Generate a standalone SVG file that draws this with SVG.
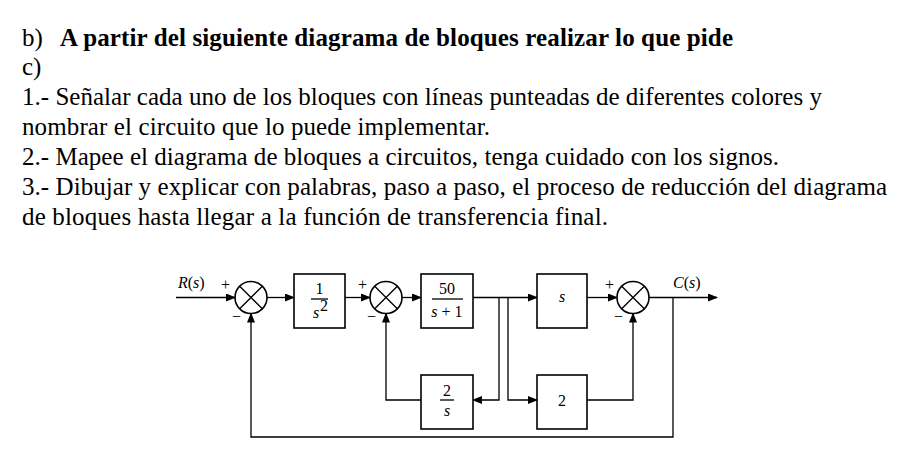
<svg xmlns="http://www.w3.org/2000/svg" width="919" height="461" viewBox="0 0 919 461">
<style>
.t{font-family:"Liberation Serif",serif;font-size:25px;fill:#000}
.m{font-family:"Liberation Serif",serif;font-size:16px;fill:#000}
.i{font-style:italic}
.b{fill:#fff;stroke:#000;stroke-width:1.6}
.l{fill:none;stroke:#000;stroke-width:1.3}
</style>
<defs><marker id="a" markerWidth="10" markerHeight="8" refX="9" refY="4" orient="auto" markerUnits="userSpaceOnUse"><path d="M0,0L10,4L0,8z"/></marker></defs>
<rect width="919" height="461" fill="#fff"/>
<text class="t" x="22" y="46">b)</text>
<text class="t" x="60" y="46" font-weight="bold" textLength="673">A partir del siguiente diagrama de bloques realizar lo que pide</text>
<text class="t" x="22" y="75">c)</text>
<text class="t" x="22" y="105" textLength="800">1.- Señalar cada uno de los bloques con líneas punteadas de diferentes colores y</text>
<text class="t" x="22" y="135" textLength="468">nombrar el circuito que lo puede implementar.</text>
<text class="t" x="22" y="165" textLength="757">2.- Mapee el diagrama de bloques a circuitos, tenga cuidado con los signos.</text>
<text class="t" x="22" y="195" textLength="865">3.- Dibujar y explicar con palabras, paso a paso, el proceso de reducción del diagrama</text>
<text class="t" x="22" y="225" textLength="586">de bloques hasta llegar a la función de transferencia final.</text>
<g id="connectors" class="l">
<path d="M176,297.5H235" marker-end="url(#a)"/>
<path d="M267,297.5H294" marker-end="url(#a)"/>
<path d="M345,297.5H370" marker-end="url(#a)"/>
<path d="M402,297.5H421" marker-end="url(#a)"/>
<path d="M473,297.5H537" marker-end="url(#a)"/>
<path d="M587,297.5H617" marker-end="url(#a)"/>
<path d="M649,297.5H717" marker-end="url(#a)"/>
<path d="M499,297.5V400H473" marker-end="url(#a)"/>
<path d="M421,400H386V313.5" marker-end="url(#a)"/>
<path d="M508,297.5V400H537" marker-end="url(#a)"/>
<path d="M587,400H633V313.5" marker-end="url(#a)"/>
<path d="M673,297.5V437H251V313.5" marker-end="url(#a)"/>
</g>
<g id="sum1"><circle class="b" cx="251" cy="297.5" r="16"/><path class="l" d="M239.7,286.2L262.3,308.8M262.3,286.2L239.7,308.8"/><text class="m" x="221" y="290">+</text><text class="m" x="232" y="322">−</text></g>
<g id="sum2"><circle class="b" cx="386" cy="297.5" r="16"/><path class="l" d="M374.7,286.2L397.3,308.8M397.3,286.2L374.7,308.8"/><text class="m" x="358" y="290">+</text><text class="m" x="367" y="322">−</text></g>
<g id="sum3"><circle class="b" cx="633" cy="297.5" r="16"/><path class="l" d="M621.7,286.2L644.3,308.8M644.3,286.2L621.7,308.8"/><text class="m" x="605" y="290">+</text><text class="m" x="614" y="322">−</text></g>
<g id="R"><text class="m" x="178" y="288"><tspan class="i">R</tspan>(<tspan class="i">s</tspan>)</text></g>
<g id="C"><text class="m" x="673" y="288"><tspan class="i">C</tspan>(<tspan class="i">s</tspan>)</text></g>
<g id="g1"><rect class="b" x="294" y="274" width="51" height="54"/><text class="m" x="319.5" y="294" text-anchor="middle">1</text><path class="l" d="M311,299H328"/><text class="m i" x="316" y="318" text-anchor="middle">s</text><text class="m" x="320" y="311" font-size="11">2</text></g>
<g id="g2"><rect class="b" x="421" y="274" width="52" height="54"/><text class="m" x="447" y="294" text-anchor="middle">50</text><path class="l" d="M432,299H463"/><text class="m" x="447" y="317" text-anchor="middle"><tspan class="i">s</tspan> + 1</text></g>
<g id="g3"><rect class="b" x="537" y="274" width="50" height="54"/><text class="m i" x="562" y="302" text-anchor="middle">s</text></g>
<g id="g4"><rect class="b" x="421" y="375" width="52" height="54"/><text class="m" x="447" y="396" text-anchor="middle">2</text><path class="l" d="M440,400H454"/><text class="m i" x="447" y="416" text-anchor="middle">s</text></g>
<g id="g5"><rect class="b" x="537" y="375" width="50" height="54"/><text class="m" x="562" y="406" text-anchor="middle">2</text></g>
</svg>
